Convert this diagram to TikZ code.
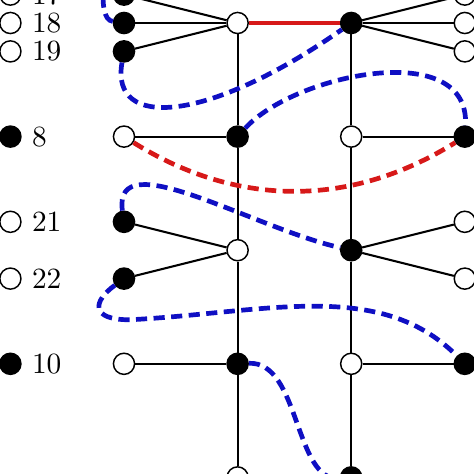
\documentclass[tikz,border=0pt]{standalone}

\definecolor{cutred}{RGB}{215,25,25}
\definecolor{loopblue}{RGB}{15,15,195}

\tikzset{
  wnode/.style={circle, draw, fill=white, line width=0.5pt, minimum size=7.2pt, inner sep=0pt},
  bnode/.style={wnode, fill=black},
  tie/.style={line width=0.7pt},
  cut/.style={line width=1.3pt, cutred},
  swap/.style={line width=1.6pt, loopblue, dash pattern=on 3.8pt off 2.2pt},
  flip/.style={swap, cutred},
}

\begin{document}
\begin{tikzpicture}[x=0.34cm, y=0.34cm]

  \path[use as bounding box, clip] (-0.366,0.81) rectangle (16.32,-15.88);

  \node[wnode, label={right:17}] (l17) at (0,1) {};
  \node[wnode, label={right:18}] (l18) at (0,0) {};
  \node[wnode, label={right:19}] (l19) at (0,-1) {};
  \node[bnode, label={right:8}] (l8) at (0,-4) {};
  \node[wnode, label={right:21}] (l21) at (0,-7) {};
  \node[wnode, label={right:22}] (l22) at (0,-9) {};
  \node[bnode, label={right:10}] (l10) at (0,-12) {};

  \node[bnode] (a17) at (4,1) {};
  \node[bnode] (a18) at (4,0) {};
  \node[bnode] (a19) at (4,-1) {};
  \node[wnode] (a8) at (4,-4) {};
  \node[bnode] (a21) at (4,-7) {};
  \node[bnode] (a22) at (4,-9) {};
  \node[wnode] (a10) at (4,-12) {};

  \node[wnode] (b18) at (8,0) {};
  \node[bnode] (b8) at (8,-4) {};
  \node[wnode] (bm) at (8,-8) {};
  \node[bnode] (b10) at (8,-12) {};
  \node[wnode] (bbot) at (8,-16) {};

  \node[bnode] (c18) at (12,0) {};
  \node[wnode] (c8) at (12,-4) {};
  \node[bnode] (cm) at (12,-8) {};
  \node[wnode] (c10) at (12,-12) {};
  \node[bnode] (cbot) at (12,-16) {};

  \node[wnode] (d17) at (16,1) {};
  \node[wnode] (d18) at (16,0) {};
  \node[wnode] (d19) at (16,-1) {};
  \node[bnode] (d8) at (16,-4) {};
  \node[wnode] (d21) at (16,-7) {};
  \node[wnode] (d22) at (16,-9) {};
  \node[bnode] (d10) at (16,-12) {};

  \coordinate (up) at (3.3,1.6);

  \draw[tie] (b18) -- (a17);
  \draw[tie] (b18) -- (a18);
  \draw[tie] (b18) -- (a19);
  \draw[tie] (c18) -- (d17);
  \draw[tie] (c18) -- (d18);
  \draw[tie] (c18) -- (d19);
  \draw[cut] (b18) -- (c18);

  \draw[tie] (b18) -- (b8) -- (bm) -- (b10) -- (bbot);
  \draw[tie] (c18) -- (c8) -- (cm) -- (c10) -- (cbot);

  \draw[tie] (a8) -- (b8);
  \draw[tie] (c8) -- (d8);
  \draw[tie] (bm) -- (a21);
  \draw[tie] (bm) -- (a22);
  \draw[tie] (cm) -- (d21);
  \draw[tie] (cm) -- (d22);
  \draw[tie] (a10) -- (b10);
  \draw[tie] (c10) -- (d10);

  \draw[swap] (a18) .. controls (3.3,0.1) and (3.2,0.6) .. (up);
  \draw[swap] (a19) .. controls (3.5,-3.8) and (7,-3.5) .. (c18);
  \draw[swap] (b8) .. controls (10,-1.8) and (16.2,-0.5) .. (d8);
  \draw[flip] (a8) .. controls (8,-6.5) and (12,-6.5) .. (d8);
  \draw[swap] (a21) .. controls (3.6,-4.2) and (8.5,-7.2) .. (cm);
  \draw[swap] (a22) .. controls (2.9,-9.8) and (2.8,-10.45) .. (4.2,-10.45)
    .. controls (9,-10.2) and (13,-9.0) .. (d10);
  \draw[swap] (b10) .. controls (10.2,-11.9) and (10,-16.2) .. (cbot);

\end{tikzpicture}
\end{document}
